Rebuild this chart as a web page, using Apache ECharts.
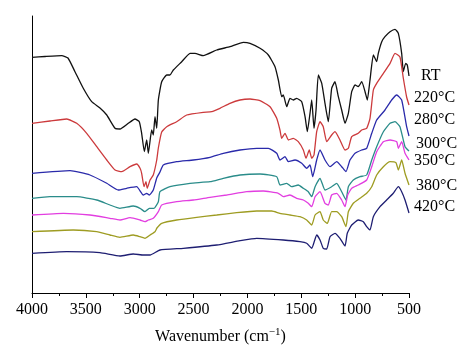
<!DOCTYPE html>
<html><head><meta charset="utf-8">
<script src="https://cdn.jsdelivr.net/npm/echarts@6/dist/echarts.min.js"></script>
<style>html,body{margin:0;padding:0;background:#fff}#c{width:474px;height:364px}</style>
</head><body><div id="c"></div>
<script>
// ---- Data (wavenumber in cm^-1, intensity in arbitrary units) ----
const seriesNames = ['RT','220°C','280°C','300°C','350°C','380°C','420°C'];
const xTicks = [4000,3500,3000,2500,2000,1500,1000,500];

const wRT = [4000,3879,3724,3666,3601,3524,3446,3369,3306,3229,3183,3106,3044,3004,2982,2957,2935,2920,2889,2874,2858,2842,2827,2796,2749,2719,2688,2610,2533,2487,2410,2285,2162,2038,1976,1883,1806,1744,1713,1682,1667,1635,1605,1574,1543,1496,1465,1444,1419,1403,1382,1363,1342,1310,1280,1249,1218,1187,1156,1125,1094,1063,1032,1001,971,939,908,887,862,831,800,785,753,723,676,630,599,568,553,531,516,500];
const vRT = [235.7,236.5,237.3,235,221.3,204.7,191.3,185,178,164.7,164,169.7,174,171.3,159.7,141.3,153,139.7,163,158,176.3,164.7,193,211.3,218,218,223,231.3,239.7,239.7,237.3,243,246.3,250.7,249.7,244.7,238,226.3,213,196.3,198,186.3,194.7,193,194.7,191.3,176.3,161.3,179.7,193,164.7,183,218,209.7,189.7,171.3,204.7,211.3,196.3,183,169.7,179.7,201.3,208,206.3,211.3,201.3,193,213,238,231.3,239.7,251.3,256.3,261.3,263.7,259.7,239.7,221.3,229.7,228,217];

const w220 = [4000,3833,3678,3585,3492,3399,3306,3229,3167,3090,3028,2997,2982,2960,2942,2930,2904,2874,2842,2827,2796,2749,2657,2564,2410,2332,2255,2162,2069,1976,1883,1790,1728,1698,1682,1651,1620,1574,1528,1481,1456,1426,1403,1382,1357,1326,1296,1264,1218,1187,1141,1094,1063,1032,971,939,893,862,831,800,738,676,630,584,553,522,500];
const v220 = [169.7,172,174,169.7,159.7,146.3,133,123,121.3,126.3,129,124.7,119.7,106.3,111.3,104.7,113,118,133,145,161,166.3,171.3,178,180.7,181.3,184.7,189.7,193,194,192.3,186.3,174.7,163,154.7,159.7,153,154.7,151.3,143,134.7,143,134.7,138,161.3,171.3,166.3,151.3,158,161.3,153,143,144.7,156.3,159.7,163,164.7,174.7,203,209.7,219.7,229.7,239.7,236,215,196,188];

const w280 = [4000,3647,3462,3306,3199,3121,3028,2967,2935,2911,2874,2842,2812,2781,2657,2502,2347,2224,2069,1914,1806,1728,1698,1651,1620,1558,1496,1450,1419,1394,1357,1326,1280,1233,1171,1125,1085,1048,1001,939,893,846,800,723,661,614,568,522,500];
const v280 = [119.7,122.3,118,109.7,103,104.7,106.3,98,99.7,98,103,115,121,128,131.3,133,135.7,139.7,143,144.7,144.7,139.7,133,136.3,131.3,133,129.7,124.7,128,116.3,133,143,133,126.3,131.3,126.3,121.3,133,139.7,143,144.7,159.7,173,183,193,198,193,166.3,157];

const w300 = [4000,3833,3585,3399,3276,3183,3060,2997,2951,2911,2867,2827,2812,2719,2533,2347,2224,2069,1883,1728,1698,1635,1589,1528,1481,1435,1403,1372,1326,1280,1218,1171,1125,1085,1063,1017,955,893,846,800,738,676,630,584,537,500];
const v300 = [94.7,96.3,96.3,93,88,84.7,87,84.7,81.3,84.7,84.7,91.3,101.3,106.3,109.7,111.3,114.7,118,119,116.3,108,109.7,106.3,108,104.7,101.3,96.3,106.3,114.7,103,106.3,109.7,101.3,93,106.3,113,116.3,118,133,146.3,161.3,169.7,171.3,166.3,146.3,142];

const w350 = [4000,3709,3462,3276,3183,3090,2997,2951,2920,2874,2827,2796,2657,2502,2347,2192,2007,1853,1713,1667,1605,1543,1481,1435,1403,1372,1326,1280,1249,1218,1171,1125,1094,1069,1032,971,893,846,800,738,676,614,599,568,537,500];
const v350 = [78,79.7,78,74.7,73,75.3,73,71.3,73,74.7,81.3,88,91.3,93,95.7,98,101.3,102,99.7,96.3,98,94.7,93,89.7,86.3,96.3,101.3,89.7,88,98,99.7,93,86.3,98,104.7,108,113,126.3,141.3,151.3,153,151.3,144.7,151.3,139.7,133];

const w380 = [4000,3617,3399,3276,3183,3060,2997,2951,2904,2858,2840,2796,2657,2471,2285,2100,1914,1775,1698,1605,1512,1450,1403,1372,1326,1296,1258,1218,1171,1125,1085,1063,1017,955,893,846,800,738,676,621,599,568,537,500];
const v380 = [61.3,63,61.3,58,55.7,58,56.3,54.7,58,61.3,65,69.7,73,75.7,78,80.3,82,82,79.7,78,76.3,73,68,78,81.3,73,69.7,81.3,81.3,76.3,66.3,81.3,89.7,94.7,99.7,106.3,118,126.3,131.3,130.3,123,133,119.7,108];

const w420 = [4000,3678,3369,3183,3060,2967,2904,2812,2595,2285,2069,1914,1667,1512,1450,1403,1357,1326,1296,1264,1233,1187,1141,1094,1073,1032,971,924,893,862,831,769,707,646,599,568,537,500];
const v420 = [39.7,41.3,40.3,37,39,38,38,43,44.7,48,52.3,54.7,53,51.3,49.7,44.7,58,53,44.7,44,56.3,59.7,54.7,47,59.7,68,73,71.3,66.3,63,76.3,86.3,93,99.7,106.3,101.3,93,80];

const colors = ['#111111','#cc3a3c','#2a2aaa','#2a8c8a','#e23ee0','#9e9c22','#1e1e72'];
const allW = [wRT,w220,w280,w300,w350,w380,w420];
const allV = [vRT,v220,v280,v300,v350,v380,v420];
// label y positions (pixels) for the right-side legend texts
const labelPos = [[421,77],[414,99],[414,121],[416,145],[414,162],[416,187],[414,208]];

const chart = echarts.init(document.getElementById('c'), null, {renderer:'canvas'});
const series = seriesNames.map((n,i)=>({
  name:n, type:'line', showSymbol:false, symbol:'none', smooth:0.15,
  lineStyle:{color:colors[i], width:1.3}, itemStyle:{color:colors[i]},
  data: allW[i].map((w,j)=>[w, allV[i][j]]), animation:false
}));
const font = '"Liberation Serif","Times New Roman",serif';
chart.setOption({
  animation:false,
  grid:{left:32,right:65,top:16,bottom:71,containLabel:false},
  xAxis:{type:'value',inverse:true,min:500,max:4000,interval:500,
    axisLine:{lineStyle:{color:'#000',width:1}},
    axisTick:{inside:false,length:5,lineStyle:{color:'#000'}},
    minorTick:{show:true,splitNumber:2,length:3,lineStyle:{color:'#000'}},
    splitLine:{show:false},
    axisLabel:{color:'#000',fontFamily:font,fontSize:16,margin:9,formatter:v=>String(v)},
    name:'Wavenumber (cm{sup|−1})',nameLocation:'middle',nameGap:34,
    nameTextStyle:{color:'#000',fontFamily:font,fontSize:16,
      rich:{sup:{fontSize:11,fontFamily:font,color:'#000',verticalAlign:'top',padding:[0,0,8,0]}}}
  },
  yAxis:{type:'value',min:0,max:277,
    axisLine:{show:true,lineStyle:{color:'#000',width:1}},
    axisTick:{show:false},axisLabel:{show:false},splitLine:{show:false}},
  graphic: seriesNames.map((n,i)=>({type:'text',left:labelPos[i][0],top:labelPos[i][1]-9,
    style:{text:n,fill:'#000',font:'16px '+font}})),
  series: series
});
</script></body></html>
